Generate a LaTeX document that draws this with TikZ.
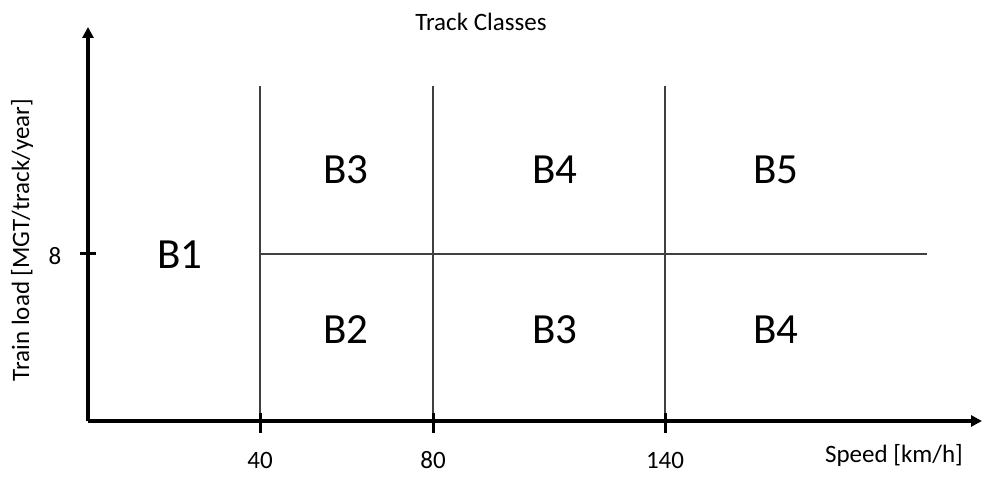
\documentclass[tikz,border=0pt]{standalone}
\usepackage{fontspec}
\setmainfont{Carlito}
\usetikzlibrary{arrows.meta}
\begin{document}
\begin{tikzpicture}
[x=1pt,y=1pt,
axis/.style={line width=3.2pt,-{Triangle[length=11pt,width=11pt]}},
gridline/.style={line width=1.1pt,black!75},
tickmark/.style={line width=3pt},
small/.style={font=\fontsize{25}{30}\selectfont,inner sep=0pt},
class/.style={font=\fontsize{43}{50}\selectfont,inner sep=0pt},
]
\useasboundingbox (0,0) rectangle (1004,482);

\coordinate (O) at (88,61);
\coordinate (ytop) at (88,455);
\coordinate (xend) at (982,61);
\coordinate (hl) at (260,228);
\coordinate (hr) at (927,228);

\foreach \x/\v/\n in {260/40/a,433/80/b,665/140/c}{
  \coordinate (\n bot) at (\x,61);
  \coordinate (\n top) at (\x,396);
  \draw[gridline] (\n bot) -- (\n top);
  \draw[tickmark] (\n bot) ++(0,8) -- ++(0,-20);
  \node[small] (lab\n) at (\x,22) {\v};
}
\draw[gridline] (hl) -- (hr);

\draw[axis] (O) -- (ytop);
\draw[axis] (O) -- (xend);
\draw[tickmark] (88,228) ++(-8,0) -- ++(16,0);

\node[small] (eight) at (55,226) {8};
\node[small] (xlabel) at (894,27) {Speed [km/h]};
\node[small,rotate=90] (ylabel) at (22,242) {Train load [MGT/track/year]};
\node[small] (title) at (481,460) {Track Classes};

\node[class] (b1) at (180,227) {B1};
\node[class] (b3up) at (346,312) {B3};
\node[class] (b4up) at (555,312) {B4};
\node[class] (b5) at (776,312) {B5};
\node[class] (b2) at (346,152) {B2};
\node[class] (b3lo) at (555,152) {B3};
\node[class] (b4lo) at (776,152) {B4};
\end{tikzpicture}
\end{document}
